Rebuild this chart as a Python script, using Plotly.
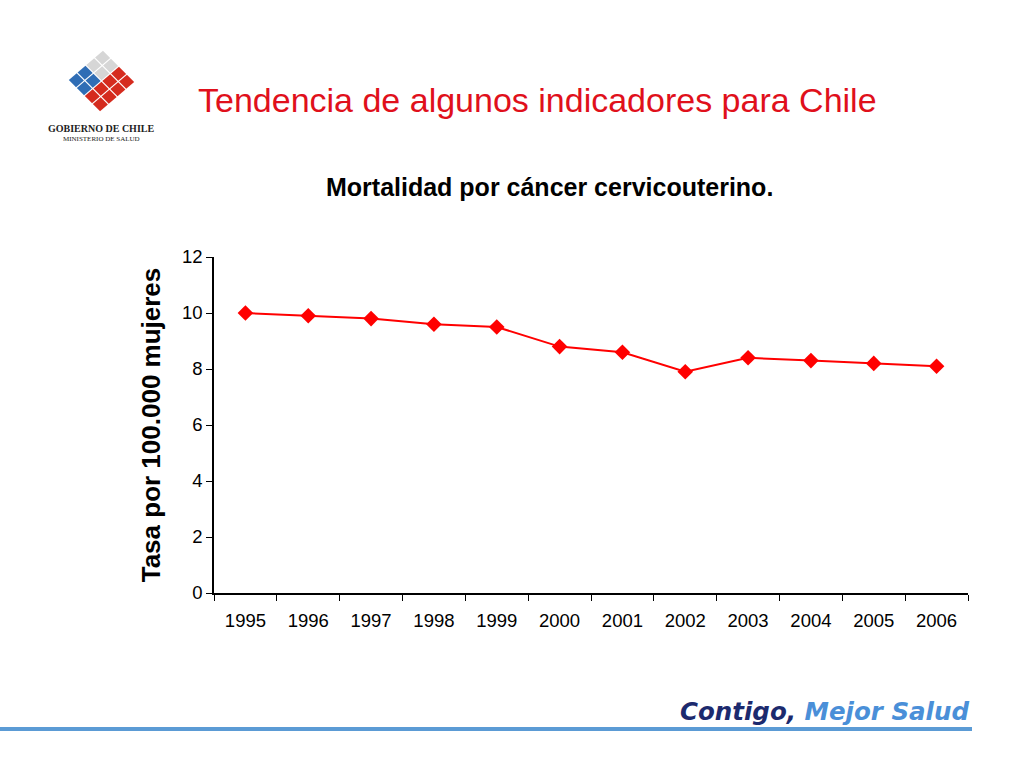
import plotly.graph_objects as go

years = ["1995", "1996", "1997", "1998", "1999", "2000", "2001", "2002", "2003", "2004", "2005", "2006"]
tasa = [10.0, 9.9, 9.8, 9.6, 9.5, 8.8, 8.6, 7.9, 8.4, 8.3, 8.2, 8.1]
y_ticks = [0, 2, 4, 6, 8, 10, 12]

W, H = 1024, 768
L, R, T, B = 214, 56, 257, 175
PW, PH = W - L - R, H - T - B

def px(x):
    return (x - L) / PW

def py(y):
    return (H - B - y) / PH

FONT = "Liberation Sans, Arial, sans-serif"

fig = go.Figure()
fig.add_trace(go.Scatter(
    x=years, y=tasa, mode="lines+markers",
    line=dict(color="#FF0000", width=2),
    marker=dict(symbol="diamond", size=12, color="#FF0000"),
    showlegend=False, hoverinfo="x+y",
))

shapes = []
# Logo: diamond lattice
top = (103, 50)
u = (8.0, 8.0)
v = (-8.75, 7.5)
for i in range(4):
    for j in range(4):
        if i <= 1 and j <= 1:
            col = "#D6D6D6"
        elif i <= 1:
            col = "#2F6DB5"
        else:
            col = "#D52B1E"
        cx = top[0] + (i + 0.5) * u[0] + (j + 0.5) * v[0]
        cy = top[1] + (i + 0.5) * u[1] + (j + 0.5) * v[1]
        s = 0.45
        pts = [
            (cx - s * u[0] - s * v[0], cy - s * u[1] - s * v[1]),
            (cx + s * u[0] - s * v[0], cy + s * u[1] - s * v[1]),
            (cx + s * u[0] + s * v[0], cy + s * u[1] + s * v[1]),
            (cx - s * u[0] + s * v[0], cy - s * u[1] + s * v[1]),
        ]
        path = "M " + " L ".join(f"{px(a):.5f},{py(b):.5f}" for a, b in pts) + " Z"
        shapes.append(dict(type="path", xref="paper", yref="paper", path=path,
                           fillcolor=col, line=dict(width=0), layer="above"))

# footer line
shapes.append(dict(type="line", xref="paper", yref="paper",
                   x0=px(0), x1=px(972), y0=py(729), y1=py(729),
                   line=dict(color="#5B9BD5", width=4)))

annotations = [
    dict(text="Tendencia de algunos indicadores para Chile", xref="paper", yref="paper",
         x=px(537), y=py(100), xanchor="center", yanchor="middle", showarrow=False,
         font=dict(family=FONT, size=34, color="#E0101B")),
    dict(text="<b>Mortalidad por cáncer cervicouterino.</b>", xref="paper", yref="paper",
         x=px(549), y=py(187), xanchor="center", yanchor="middle", showarrow=False,
         font=dict(family=FONT, size=25, color="#000000")),
    dict(text="<b>GOBIERNO DE CHILE</b>", xref="paper", yref="paper",
         x=px(101), y=py(128), xanchor="center", yanchor="middle", showarrow=False,
         font=dict(family="Liberation Serif, Times New Roman, serif", size=10, color="#222222")),
    dict(text="MINISTERIO DE SALUD", xref="paper", yref="paper",
         x=px(101), y=py(139), xanchor="center", yanchor="middle", showarrow=False,
         font=dict(family="Liberation Serif, Times New Roman, serif", size=7, color="#222222")),
    dict(text="<b><i><span style='color:#1C2A6E'>Contigo,</span> <span style='color:#4A8FD8'>Mejor Salud</span></i></b>",
         xref="paper", yref="paper",
         x=px(971), y=py(711), xanchor="right", yanchor="middle", showarrow=False,
         font=dict(family="DejaVu Sans, sans-serif", size=24.5)),
]

fig.update_layout(
    width=W, height=H,
    margin=dict(l=L, r=R, t=T, b=B),
    paper_bgcolor="white", plot_bgcolor="white",
    font=dict(family=FONT, color="#000000"),
    shapes=shapes, annotations=annotations,
    xaxis=dict(type="category", range=[-0.5, 11.5], showgrid=False, zeroline=False,
               showline=True, linecolor="black", linewidth=1.5,
               ticks="outside", tickson="boundaries", ticklen=6, tickcolor="black",
               ticklabelstandoff=10,
               tickfont=dict(size=18.5), fixedrange=True),
    yaxis=dict(range=[0, 12], tickvals=y_ticks, showgrid=False, zeroline=False,
               showline=True, linecolor="black", linewidth=1.5,
               ticks="outside", ticklen=6, tickcolor="black",
               tickfont=dict(size=18.5),
               title=dict(text="<b>Tasa por 100.000 mujeres</b>", font=dict(size=26), standoff=14),
               fixedrange=True),
)

fig.write_html("out.html")
